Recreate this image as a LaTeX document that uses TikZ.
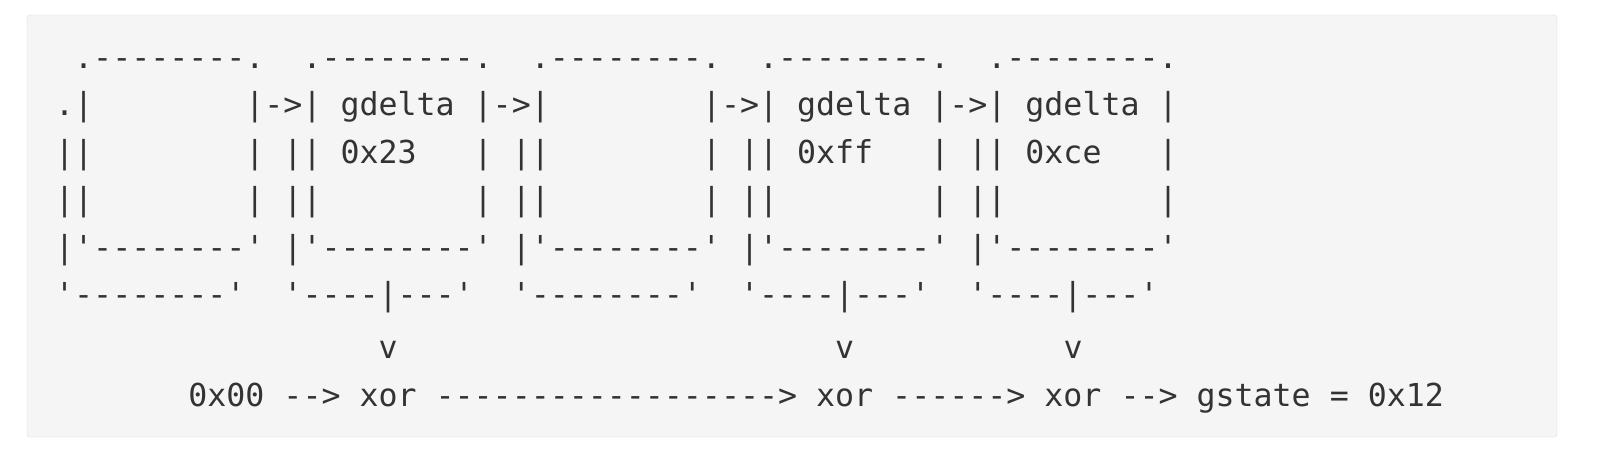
\documentclass[tikz,border=0pt]{standalone}
\usepackage{fontspec}
\setmonofont{DejaVu Sans Mono}
\definecolor{codebg}{HTML}{F5F5F5}
\definecolor{codeborder}{HTML}{DDDDDD}
\definecolor{codetext}{HTML}{333333}
\begin{document}
\begin{tikzpicture}[x=1pt,y=-1pt,
  ln/.style={anchor=base west,inner sep=0pt,text=codetext,font=\ttfamily\fontsize{31.6}{31.6}\selectfont}]
\fill[white] (0,0) rectangle (1604,456);
\draw[codeborder,fill=codebg,rounded corners=3pt] (27,15) rectangle (1557,437);
\node[ln] (l1) at (55,68)  {~.--------.~~.--------.~~.--------.~~.--------.~~.--------.};
\node[ln] (l2) at (55,115) {.|~~~~~~~~|->|~gdelta~|->|~~~~~~~~|->|~gdelta~|->|~gdelta~|};
\node[ln] (l3) at (55,163) {||~~~~~~~~|~||~0x23~~~|~||~~~~~~~~|~||~0xff~~~|~||~0xce~~~|};
\node[ln] (l4) at (55,210) {||~~~~~~~~|~||~~~~~~~~|~||~~~~~~~~|~||~~~~~~~~|~||~~~~~~~~|};
\node[ln] (l5) at (55,258) {|'--------'~|'--------'~|'--------'~|'--------'~|'--------'};
\node[ln] (l6) at (55,305) {'--------'~~'----|---'~~'--------'~~'----|---'~~'----|---'};
\node[ln] (l7) at (55,358) {~~~~~~~~~~~~~~~~~v~~~~~~~~~~~~~~~~~~~~~~~v~~~~~~~~~~~v};
\node[ln] (l8) at (55,406) {~~~~~~~0x00~-->~xor~------------------>~xor~------>~xor~-->~gstate~=~0x12};
\pgfresetboundingbox
\useasboundingbox (0,0) rectangle (1604,456);
\end{tikzpicture}
\end{document}
